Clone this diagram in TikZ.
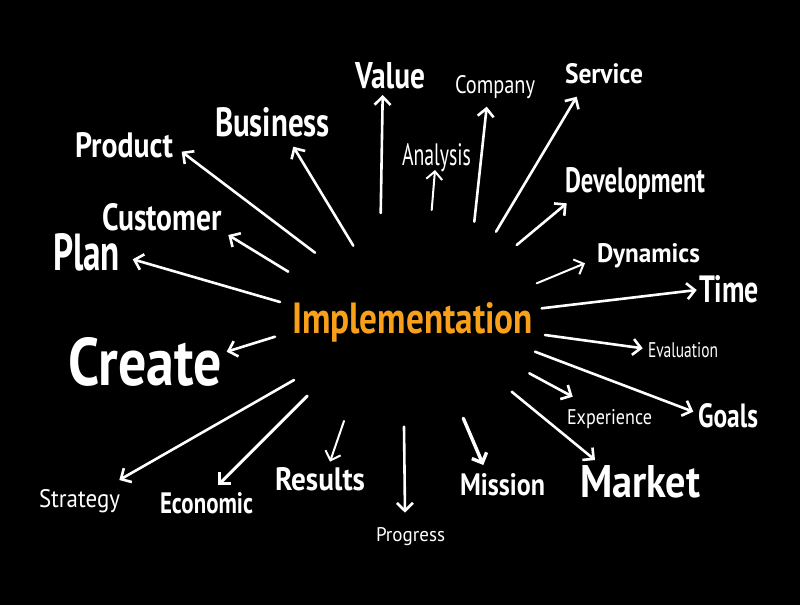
\documentclass[tikz,border=0pt]{standalone}
\usepackage{fontspec}
\setmainfont{PT Sans}
\usepackage{graphicx}
\usetikzlibrary{arrows.meta}
\definecolor{implor}{RGB}{249,160,27}
\newcommand\fitword[3]{\resizebox{#1pt}{#2pt}{#3}}
\tikzset{
  word/.style={anchor=base west, inner sep=0pt, outer sep=0pt, text=white,
    font=\fontsize{20}{24}\selectfont},
  bigword/.style={word, font=\fontsize{20}{24}\selectfont\bfseries},
  arr/.style={draw=white, line width=2.6pt, line cap=round,
    -{Straight Barb[length=8pt,width=16pt]}},
  thinarr/.style={arr, line width=2pt},
}
\begin{document}
\begin{tikzpicture}[x=1pt,y=-1pt]
\fill[black] (0,0) rectangle (800,605);
\useasboundingbox (0,0) rectangle (800,605);

% words
\node[bigword] (value) at (355,88) {\fitword{70}{26}{Value}};
\node[word] (company) at (455,93) {\fitword{80}{18}{Company}};
\node[bigword] (service) at (565,83) {\fitword{78}{20}{Service}};
\node[bigword] (business) at (215,136) {\fitword{115}{29}{Business}};
\node[bigword] (product) at (75,157) {\fitword{98}{25}{Product}};
\node[word] (analysis) at (402,165) {\fitword{69}{22}{Analysis}};
\node[bigword] (development) at (565,192) {\fitword{140}{25}{Development}};
\node[bigword] (customer) at (102,230) {\fitword{120}{27}{Customer}};
\node[bigword] (plan) at (53,270) {\fitword{67}{37}{Plan}};
\node[bigword] (dynamics) at (597,262) {\fitword{103}{19}{Dynamics}};
\node[bigword] (time) at (699,302) {\fitword{60}{27}{Time}};
\node[bigword, text=implor] (impl) at (292,333) {\fitword{241}{31}{Implementation}};
\node[bigword] (create) at (68,385) {\fitword{154}{48}{Create}};
\node[word] (evaluation) at (648,357) {\fitword{70}{15}{Evaluation}};
\node[bigword] (goals) at (698,427) {\fitword{60}{24}{Goals}};
\node[word] (experience) at (567,424) {\fitword{85}{15}{Experience}};
\node[bigword] (results) at (275,490) {\fitword{90}{23}{Results}};
\node[bigword] (mission) at (460,495) {\fitword{85}{22}{Mission}};
\node[bigword] (market) at (580,497) {\fitword{120}{32}{Market}};
\node[word] (strategy) at (39,507) {\fitword{81}{18}{Strategy}};
\node[bigword] (economic) at (160,513) {\fitword{93}{21}{Economic}};
\node[word] (progress) at (376,541) {\fitword{69}{14}{Progress}};

% arrow start points (around the centre) and tips
\coordinate (sValue) at (380.7,213);   \coordinate (tValue) at (382.7,95);
\coordinate (sAnal) at (431.7,210);    \coordinate (tAnal) at (435,170);
\coordinate (sComp) at (474.3,221.7);  \coordinate (tComp) at (486.7,106.7);
\coordinate (sServ) at (496,231.7);    \coordinate (tServ) at (576.7,96.7);
\coordinate (sDev) at (516.7,245);     \coordinate (tDev) at (566.7,203.3);
\coordinate (sDyn) at (536.7,283.3);   \coordinate (tDyn) at (585,263.3);
\coordinate (sTime) at (541.7,308.3);  \coordinate (tTime) at (696.7,290);
\coordinate (sEval) at (545,335);      \coordinate (tEval) at (642.7,348.3);
\coordinate (sGoal) at (535,351.7);    \coordinate (tGoal) at (693.3,411.7);
\coordinate (sExp) at (529.3,373.3);   \coordinate (tExp) at (572.7,396.7);
\coordinate (sMark) at (511.7,391.7);  \coordinate (tMark) at (595,460);
\coordinate (sMiss) at (463.3,418.3);  \coordinate (tMiss) at (483.3,465);
\coordinate (sProg) at (404,426.7);    \coordinate (tProg) at (405,512.7);
\coordinate (sRes) at (344,421);       \coordinate (tRes) at (330,461.7);
\coordinate (sEco) at (307.3,396);     \coordinate (tEco) at (218.3,485);
\coordinate (sStr) at (294,380);       \coordinate (tStr) at (119.3,480);
\coordinate (sCre) at (275,336.7);     \coordinate (tCre) at (226.7,351.7);
\coordinate (sPlan) at (280,302);      \coordinate (tPlan) at (132.7,259.3);
\coordinate (sCust) at (288.3,271.7);  \coordinate (tCust) at (228.3,235);
\coordinate (sProd) at (315,252.7);    \coordinate (tProd) at (181.7,151.7);
\coordinate (sBus) at (353.3,245.7);   \coordinate (tBus) at (293.3,146.7);

\draw[arr] (sValue) -- (tValue);
\draw[thinarr] (sAnal) -- (tAnal);
\draw[arr] (sComp) -- (tComp);
\draw[arr] (sServ) -- (tServ);
\draw[arr] (sDev) -- (tDev);
\draw[thinarr] (sDyn) -- (tDyn);
\draw[arr] (sTime) -- (tTime);
\draw[arr] (sEval) -- (tEval);
\draw[arr] (sGoal) -- (tGoal);
\draw[arr] (sExp) -- (tExp);
\draw[arr] (sMark) -- (tMark);
\draw[arr, line width=3.4pt] (sMiss) -- (tMiss);
\draw[arr] (sProg) -- (tProg);
\draw[thinarr] (sRes) -- (tRes);
\draw[arr, line width=3pt] (sEco) -- (tEco);
\draw[arr] (sStr) -- (tStr);
\draw[arr] (sCre) -- (tCre);
\draw[arr] (sPlan) -- (tPlan);
\draw[arr] (sCust) -- (tCust);
\draw[arr] (sProd) -- (tProd);
\draw[arr] (sBus) -- (tBus);
\end{tikzpicture}
\end{document}
